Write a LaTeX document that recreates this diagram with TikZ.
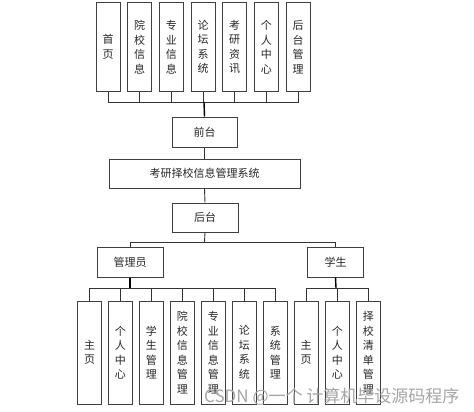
\documentclass[tikz,border=0pt]{standalone}
\usepackage{fontspec}
\setmainfont{Noto Sans CJK SC}
\begin{document}
\begin{tikzpicture}[x=1pt,y=-1pt,
  box/.style={draw=black!75,line width=1pt,inner sep=0pt,align=center,text=black!85,
    font=\fontsize{11}{14.5}\selectfont},
  tall/.style={box,minimum width=24pt,minimum height=88pt},
  low/.style={box,minimum width=24pt,minimum height=103pt},
  conn/.style={draw=black!80,line width=0.9pt},
  stem/.style={draw=black,line width=1.4pt}]
\useasboundingbox (0,0) rectangle (474,412);
\fill[white] (0,0) rectangle (474,412);
% top row
\node[tall] (t1) at (108,47) {首\\页};
\node[tall] (t2) at (139.7,47) {院\\校\\信\\息};
\node[tall] (t3) at (171.3,47) {专\\业\\信\\息};
\node[tall] (t4) at (203,47) {论\\坛\\系\\统};
\node[tall] (t5) at (234.7,47) {考\\研\\资\\讯};
\node[tall] (t6) at (266.3,47) {个\\人\\中\\心};
\node[tall] (t7) at (298,47) {后\\台\\管\\理};
\node[box,minimum width=65pt,minimum height=30pt] (qt) at (204.5,132) {前台};
\node[box,minimum width=191pt,minimum height=29pt] (sys) at (204.5,173.5) {考研择校信息管理系统};
\node[box,minimum width=66pt,minimum height=29pt] (ht) at (205,217.5) {后台};
\node[box,minimum width=66pt,minimum height=30pt] (gly) at (130,262) {管理员};
\node[box,minimum width=56pt,minimum height=30pt] (xs) at (335.5,262) {学生};
% admin row
\node[low] (a1) at (89.7,352.5) {主\\页};
\node[low] (a2) at (120.4,352.5) {个\\人\\中\\心};
\node[low] (a3) at (151.3,352.5) {学\\生\\管\\理};
\node[low] (a4) at (182.3,352.5) {院\\校\\信\\息\\管\\理};
\node[low] (a5) at (213.3,352.5) {专\\业\\信\\息\\管\\理};
\node[low] (a6) at (244.3,352.5) {论\\坛\\系\\统};
\node[low] (a7) at (275.3,352.5) {系\\统\\管\\理};
% student row
\node[low] (s1) at (306,352.5) {主\\页};
\node[low] (s2) at (337.3,352.5) {个\\人\\中\\心};
\node[low] (s3) at (368.3,352.5) {择\\校\\清\\单\\管\\理};
% bus points
\coordinate (tbus) at (204,102);
\coordinate (mbus) at (204.5,242);
\coordinate (abus) at (130,288);
\coordinate (sbus) at (336,288);
% connectors
\foreach \n in {t1,t2,t3,t4,t5,t6,t7} \draw[conn] (\n.south) |- (tbus);
\draw[stem] (tbus) -- (qt.north);
\draw[conn] (qt.south) -- (sys.north);
\draw[conn] (sys.south) -- (ht.north);
\draw[conn] (ht.south) -- (mbus);
\draw[conn] (gly.north) |- (mbus);
\draw[conn] (xs.north) |- (mbus);
\foreach \n in {a1,a2,a3,a4,a5,a6,a7} \draw[conn] (\n.north) |- (abus);
\draw[stem] (gly.south) -- (abus);
\foreach \n in {s1,s2,s3} \draw[conn] (\n.north) |- (sbus);
\draw[stem] (xs.south) -- (sbus);
% watermark
\node[anchor=west,text=black!35,font=\fontsize{17}{17}\selectfont,inner sep=0pt] (wm) at (204,397) {CSDN @一个 计算机毕设源码程序};
\end{tikzpicture}
\end{document}
